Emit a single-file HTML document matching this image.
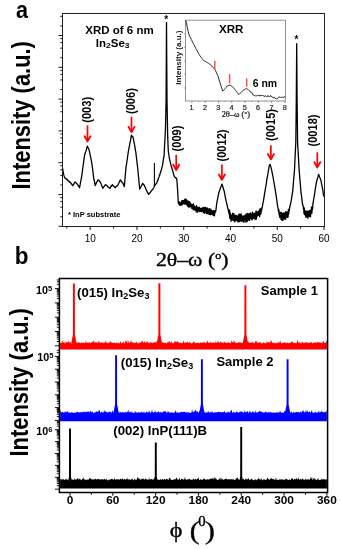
<!DOCTYPE html>
<html><head><meta charset="utf-8"><style>
html,body{margin:0;padding:0;background:#fff;}
svg{display:block;}
</style></head><body>
<svg width="342" height="550" viewBox="0 0 342 550">
<rect width="342" height="550" fill="#fff"/>
<text transform="translate(21.95,17.7) scale(0.9,1)" font-family="'Liberation Sans', Arial, sans-serif" font-size="24" font-weight="bold" text-anchor="middle" dominant-baseline="alphabetic" fill="#000" >a</text>
<text transform="translate(29.6,115.3) scale(1.14,1) rotate(-90)" font-family="'Liberation Sans', Arial, sans-serif" font-size="21.9" font-weight="bold" text-anchor="middle" dominant-baseline="alphabetic" fill="#000" >Intensity (a.u.)</text>
<polyline points="62.6,168.28 62.93,170.19 63.27,172.57 63.6,174.2 64,175.69 64.4,176.74 64.8,177.69 65.11,178.23 65.42,178.12 65.73,178.62 66.04,178.59 66.36,178.82 66.67,179.28 66.98,179.78 67.29,179.51 67.6,179.81 67.92,180.4 68.24,180.94 68.57,180.99 68.89,181.17 69.21,181.89 69.53,181.55 69.86,182.43 70.18,182.34 70.5,182.55 70.8,182.89 71.1,183.39 71.4,184.11 71.7,184.03 72,184.67 72.3,185.07 72.6,185.25 72.9,185.73 73.23,184.85 73.56,184.31 73.89,183.87 74.21,183.65 74.54,182.94 74.87,182.31 75.2,181.96 75.52,182.18 75.83,182.39 76.15,183.06 76.47,183.31 76.78,183.3 77.1,183.85 77.41,184.29 77.72,185.01 78.04,185.39 78.35,185.55 78.66,186.51 78.97,186.38 79.29,187.07 79.6,187.78 79.91,185.63 80.23,184.14 80.54,182.09 80.86,180.8 81.17,179.14 81.49,177.28 81.8,175.76 82.1,173.15 82.4,171.19 82.7,168.9 83,166.67 83.3,164.36 83.6,162.4 83.9,160.26 84.2,157.7 84.5,155.61 84.81,154.18 85.12,153.62 85.43,152.57 85.74,151.8 86.06,150.67 86.37,149.28 86.68,148.34 86.99,147.53 87.3,146.07 87.66,147.09 88.02,147.61 88.38,148.29 88.74,148.97 89.1,150.19 89.4,151.15 89.7,152.65 90,154.16 90.3,155.9 90.6,156.76 90.9,158.43 91.2,159.91 91.5,161.56 91.8,162.92 92.16,165.87 92.52,168.38 92.88,171.4 93.24,174.28 93.6,177.57 93.92,179.3 94.24,180.42 94.56,182.11 94.88,183.83 95.2,185.51 95.51,185.01 95.82,184.41 96.13,183.5 96.44,182.64 96.76,182.25 97.07,181.54 97.38,181 97.69,180.59 98,179.73 98.33,179.94 98.66,180.34 98.99,180.71 99.31,180.6 99.64,181.52 99.97,181.77 100.3,182.16 100.61,182.93 100.92,183.47 101.24,184.3 101.55,184.92 101.86,186.12 102.17,186.54 102.49,187.37 102.8,188.3 103.11,187.84 103.42,187.54 103.73,186.92 104.04,186.46 104.36,186.14 104.67,185.69 104.98,185.45 105.29,184.79 105.6,184.96 105.93,185.05 106.26,185 106.59,185.34 106.91,185.68 107.24,185.96 107.57,186.06 107.9,186.84 108.22,187.26 108.53,187.21 108.85,187.54 109.17,187.58 109.48,187.9 109.8,188.39 110.11,187.86 110.42,187.78 110.74,186.84 111.05,186.27 111.36,186.44 111.67,185.67 111.99,184.93 112.3,184.73 112.61,184.69 112.92,185.36 113.23,186 113.54,186.24 113.86,186.45 114.17,186.47 114.48,186.86 114.79,187.04 115.1,187.79 115.42,187.3 115.74,187.15 116.07,186.51 116.39,186.12 116.71,186.21 117.03,186.01 117.36,185.59 117.68,185.24 118,184.92 118.31,184.28 118.62,183.33 118.94,182.95 119.25,182.25 119.56,181.43 119.88,180.84 120.19,180.43 120.5,179.83 120.81,180.53 121.13,181.12 121.44,181.16 121.76,181.91 122.07,182.34 122.39,182.72 122.7,182.71 123.02,183.36 123.34,184.13 123.66,184.87 123.98,185.63 124.3,186.69 124.62,183.2 124.94,179.48 125.26,175.55 125.58,171.99 125.9,168.41 126.24,165.63 126.58,163.76 126.91,161.66 127.25,159.3 127.59,157 127.92,154.53 128.26,152.05 128.6,150.2 128.91,148.27 129.22,146.99 129.53,145.5 129.84,143.48 130.16,141.88 130.47,140.65 130.78,138.88 131.09,136.88 131.4,135.24 131.76,135.62 132.12,136.5 132.48,136.79 132.84,136.69 133.2,137.53 133.5,139.35 133.8,140.83 134.1,142.33 134.4,144.18 134.7,145.6 135,147.23 135.3,149.61 135.6,151.09 135.9,152.72 136.26,156.1 136.62,158.85 136.98,162.26 137.34,165.33 137.7,168 138.03,171.53 138.37,175.06 138.7,178.52 139.03,182.26 139.37,185.53 139.7,189.14 140.02,188.3 140.34,188.2 140.67,187.16 140.99,186.59 141.31,186.04 141.63,185.62 141.96,184.63 142.28,184.34 142.6,183.4 142.9,183.81 143.2,184.18 143.5,184.21 143.8,184.89 144.1,185.09 144.4,185.35 144.72,186.59 145.03,186.82 145.35,187.71 145.66,188.57 145.98,189.12 146.29,189.64 146.61,190.45 146.92,191.15 147.24,191.99 147.55,192.19 147.87,193.19 148.18,193.65 148.5,194.34 148.83,194.28 149.16,193.68 149.49,193.3 149.81,193.02 150.14,192.72 150.47,191.97 150.8,191.68 151.13,191.19 151.46,190.78 151.79,190.49 152.11,189.91 152.44,189.55 152.77,189.1 153.1,189.01 153.4,188.24 153.7,187.76 154,187.21 154.3,186.13 154.6,185.74 154.9,185.41 155.24,185 155.58,184.17 155.92,183.82 156.26,183.7 156.6,183.1 156.9,182.4 157.2,181.46 157.5,181.06 157.8,180.32 158.1,179.58 158.4,178.24 158.7,177.81 159,176.95 159.3,175.77 159.6,175.47 159.9,174.56 160.2,173.07 160.5,172.62 160.8,171.26 161.1,170.36 161.4,169.74 161.7,168.67 162,167.23 162.3,166.45 162.66,164.31 163.02,161.99 163.38,159.69 163.74,157.57 164.1,155.66 164.45,148.34 164.8,141.89 165.15,134.98 165.5,127.86 166.1,99.88 166.5,22.49 167,100.01 167.35,118.1 167.7,137.14 168,144.1 168.3,151.33 168.67,153.26 169.03,155.9 169.4,158.28 169.72,160.12 170.04,161.08 170.36,162.3 170.68,163.83 171,165.49 171.32,166.5 171.64,167.19 171.96,168.19 172.28,169.81 172.6,170.65 172.92,171.9 173.24,172.63 173.56,173.77 173.88,175.37 174.2,176.35 174.55,176.38 174.9,177.26 175.25,177.32 175.6,177.71 175.9,177.58 176.2,178.5 176.5,178.32 176.8,179.25 177.2,184.47 177.6,189.89 177.95,196.54 178.3,203.3 178.63,202.65 178.97,204.03 179.3,201.81 179.63,205.19 179.97,202.59 180.3,205.36 180.64,202.71 180.98,205.08 181.31,201.73 181.65,204.94 181.99,200.32 182.32,204.53 182.66,200.54 183,203.9 183.31,200.62 183.62,203.36 183.94,200.67 184.25,203.18 184.56,199.38 184.88,204.24 185.19,200.46 185.5,203.89 185.81,198.86 186.12,203.46 186.44,199.56 186.75,204.64 187.06,200.73 187.38,205.99 187.69,201.39 188,205.66 188.31,201.09 188.62,207.09 188.93,202.22 189.24,207.08 189.56,201.71 189.87,206.96 190.18,202.74 190.49,206.63 190.8,203.88 191.14,206.54 191.48,204.35 191.81,208.45 192.15,204.42 192.49,207.62 192.82,205.31 193.16,209.68 193.5,204 193.81,209.75 194.12,205.78 194.44,209.19 194.75,206.18 195.06,210.11 195.38,206.92 195.69,210.51 196,207.1 196.31,211.96 196.62,205.57 196.94,211.11 197.25,207.36 197.56,212.19 197.87,207.31 198.18,210.88 198.49,208.13 198.81,211.05 199.12,207.14 199.43,211.43 199.74,207.88 200.05,211.54 200.36,208.44 200.68,211.09 200.99,208.35 201.3,211.51 201.61,208.58 201.92,210.77 202.24,208.1 202.55,211.39 202.86,207.58 203.17,212.2 203.48,207.33 203.79,212.63 204.11,207.54 204.42,213.27 204.73,208.42 205.04,212.12 205.35,207.18 205.66,211.84 205.98,207.91 206.29,213.11 206.6,209.61 206.91,213.7 207.21,207.8 207.52,213.37 207.82,208.32 208.13,213.95 208.44,209.85 208.74,213.44 209.05,209.16 209.35,214.31 209.66,208.62 209.96,214.44 210.27,209.28 210.58,214.75 210.88,209.2 211.19,214.44 211.49,210.4 211.8,213.06 212.14,210.87 212.48,214.15 212.81,211.26 213.15,215.57 213.49,210.53 213.82,215.42 214.16,210.7 214.5,215.78 214.82,211.13 215.15,212.68 215.48,210.68 215.8,211.17 216.13,208.34 216.47,205.69 216.8,203.11 217.11,201.12 217.43,200.02 217.74,198.11 218.06,196.42 218.37,194.98 218.69,193.73 219,191.79 219.32,191.28 219.64,190.56 219.97,189.33 220.29,188.36 220.61,187.54 220.93,186.8 221.26,185.96 221.58,184.97 221.9,184.1 222.21,184.69 222.53,185.72 222.84,186.78 223.16,188.11 223.47,188.79 223.79,189.96 224.1,190.56 224.4,192.11 224.7,193.77 225,195.57 225.3,197.1 225.6,198.61 225.9,199.85 226.26,201.61 226.62,203.18 226.98,204.78 227.34,206.13 227.7,208.28 228,208.71 228.3,210.17 228.6,212.26 228.9,210.91 229.2,214.63 229.5,209.87 229.8,218.4 230.1,212.26 230.4,217.7 230.7,214.38 231,221.14 231.31,215.14 231.62,220.17 231.94,215.47 232.25,220.12 232.56,213.15 232.88,219.06 233.19,213.68 233.5,220.32 233.81,213.6 234.12,221.03 234.44,215.7 234.75,221.74 235.06,215.06 235.38,219.24 235.69,216.64 236,220.77 236.31,215.37 236.62,220.23 236.93,216.33 237.24,220.38 237.55,215.83 237.86,221.9 238.17,216.8 238.48,221.66 238.79,214.31 239.1,219.79 239.4,214.08 239.71,221.61 240.02,214.18 240.33,220.36 240.64,215.8 240.95,220.7 241.26,213.95 241.57,221.32 241.88,215.9 242.19,220.86 242.5,216.18 242.81,219.69 243.11,216.61 243.42,221.97 243.72,215.97 244.03,222.18 244.33,215.99 244.64,220.08 244.94,215.12 245.25,219.76 245.56,215.44 245.86,221.98 246.17,213.82 246.47,221.46 246.78,214.49 247.08,221.67 247.39,213.47 247.69,220.49 248,214.04 248.31,218.86 248.62,213.86 248.93,219.92 249.24,213.64 249.55,220.35 249.86,214.9 250.17,218.41 250.48,212.82 250.79,218.5 251.1,214.04 251.41,219 251.72,214.41 252.03,220.04 252.34,212.22 252.65,218.45 252.96,213.04 253.27,218.42 253.58,213.18 253.89,218.55 254.2,214.21 254.52,217.61 254.83,213.75 255.15,219.52 255.47,212.55 255.78,217.12 256.1,210.98 256.42,219.12 256.73,212.02 257.05,216.21 257.37,212.46 257.68,215.73 258,211.68 258.33,215.31 258.67,211.49 259,215.32 259.33,210 259.67,216.71 260,208.95 260.32,214.45 260.63,208.8 260.95,213.62 261.27,208.25 261.58,210.92 261.9,208.46 262.21,207.13 262.53,205.9 262.84,203.6 263.16,202.15 263.47,200.52 263.79,198.97 264.1,196.8 264.44,194.71 264.78,192.57 265.11,190.55 265.45,188.46 265.79,186.69 266.12,184.49 266.46,182.39 266.8,179.67 267.14,177.74 267.48,176.27 267.81,174.46 268.15,172.23 268.49,170.37 268.82,168.03 269.16,166.36 269.5,164.8 269.9,164.63 270.3,164.55 270.64,166.16 270.99,167.18 271.33,168.61 271.67,170.17 272.01,171.96 272.36,173.6 272.7,175.31 273.01,176.98 273.32,178.75 273.63,180.65 273.94,182.26 274.26,184.15 274.57,185.61 274.88,187.95 275.19,189.39 275.5,191.69 275.84,193.87 276.19,196.01 276.53,198.25 276.87,200.71 277.21,203.35 277.56,205.77 277.9,207.73 278.22,208.9 278.54,211.72 278.86,209.55 279.18,214.98 279.5,212.04 279.81,217.38 280.12,213.23 280.43,217.03 280.74,212.43 281.06,219.57 281.37,212.44 281.68,219.89 281.99,213.5 282.3,218.5 282.62,214.42 282.94,220.58 283.26,212.94 283.58,218.52 283.9,214.89 284.22,218.99 284.54,212.83 284.86,218.65 285.18,213.99 285.5,219.3 285.82,211.59 286.14,217.31 286.47,213.61 286.79,216.97 287.11,211.78 287.43,217.34 287.76,211.78 288.08,217.02 288.4,209.49 288.71,213.98 289.02,209.15 289.34,210.71 289.65,207.52 289.96,206.54 290.27,204.79 290.59,203.44 290.9,202.48 291.2,200.34 291.5,198.98 291.8,196.85 292.1,194.81 292.4,193.02 292.7,191.34 293,187.87 293.3,184.41 293.6,180.2 293.9,176.73 294.2,172.95 294.5,169.83 294.82,162.45 295.15,155.59 295.48,148.79 295.8,142.23 296.3,100.28 296.7,43.57 297.1,100.16 297.6,142.65 297.9,148.04 298.2,153.06 298.5,158.4 298.8,164.37 299.1,169.67 299.46,173.55 299.82,178.38 300.18,182.56 300.54,186.93 300.9,191.28 301.22,193.69 301.54,196.09 301.86,198.81 302.18,201.38 302.5,204.32 302.8,204.99 303.1,205.03 303.4,208.78 303.7,207.27 304,213.72 304.3,207.91 304.64,214.38 304.98,210.95 305.31,215.33 305.65,210.85 305.99,217.43 306.32,212.19 306.66,216.66 307,211 307.31,216.08 307.62,212.32 307.93,218.26 308.24,211.24 308.56,215.98 308.87,213.27 309.18,215.98 309.49,210.66 309.8,216.47 310.14,210.41 310.49,216.88 310.83,210.15 311.17,213.65 311.51,206.95 311.86,213.22 312.2,207.85 312.55,209.1 312.9,203.97 313.25,202.22 313.6,199.65 313.91,198.21 314.22,196.36 314.53,194.19 314.84,192.44 315.16,189.83 315.47,188.01 315.78,186.22 316.09,184.59 316.4,182.62 316.73,181.05 317.06,179.78 317.39,178.74 317.71,177.61 318.04,176.74 318.37,175.05 318.7,174.31 319.01,175.18 319.33,176.15 319.64,177.03 319.96,177.83 320.27,178.55 320.59,179.46 320.9,180.4 321.2,182.2 321.5,183.21 321.8,184.79 322.1,186.68 322.4,187.82 322.7,189.2 323.07,191.61 323.43,194.4 323.8,196.68" fill="none" stroke="#000" stroke-width="1.3" stroke-linejoin="round" />
<line x1="154.4" y1="186" x2="154.4" y2="162.9" stroke="#000" stroke-width="1.1" />
<rect x="62.5" y="13.5" width="262" height="213" fill="none" stroke="#222" stroke-width="1"/>
<line x1="58.5" y1="226.3" x2="62.5" y2="226.3" stroke="#000" stroke-width="0.9" />
<line x1="60.3" y1="216.73" x2="62.5" y2="216.73" stroke="#000" stroke-width="0.9" />
<line x1="60.3" y1="207.15" x2="62.5" y2="207.15" stroke="#000" stroke-width="0.9" />
<line x1="60.3" y1="201.55" x2="62.5" y2="201.55" stroke="#000" stroke-width="0.9" />
<line x1="60.3" y1="197.58" x2="62.5" y2="197.58" stroke="#000" stroke-width="0.9" />
<line x1="58.5" y1="194.5" x2="62.5" y2="194.5" stroke="#000" stroke-width="0.9" />
<line x1="60.3" y1="184.93" x2="62.5" y2="184.93" stroke="#000" stroke-width="0.9" />
<line x1="60.3" y1="175.35" x2="62.5" y2="175.35" stroke="#000" stroke-width="0.9" />
<line x1="60.3" y1="169.75" x2="62.5" y2="169.75" stroke="#000" stroke-width="0.9" />
<line x1="60.3" y1="165.78" x2="62.5" y2="165.78" stroke="#000" stroke-width="0.9" />
<line x1="58.5" y1="162.7" x2="62.5" y2="162.7" stroke="#000" stroke-width="0.9" />
<line x1="60.3" y1="153.13" x2="62.5" y2="153.13" stroke="#000" stroke-width="0.9" />
<line x1="60.3" y1="143.55" x2="62.5" y2="143.55" stroke="#000" stroke-width="0.9" />
<line x1="60.3" y1="137.95" x2="62.5" y2="137.95" stroke="#000" stroke-width="0.9" />
<line x1="60.3" y1="133.98" x2="62.5" y2="133.98" stroke="#000" stroke-width="0.9" />
<line x1="58.5" y1="130.9" x2="62.5" y2="130.9" stroke="#000" stroke-width="0.9" />
<line x1="60.3" y1="121.33" x2="62.5" y2="121.33" stroke="#000" stroke-width="0.9" />
<line x1="60.3" y1="111.75" x2="62.5" y2="111.75" stroke="#000" stroke-width="0.9" />
<line x1="60.3" y1="106.15" x2="62.5" y2="106.15" stroke="#000" stroke-width="0.9" />
<line x1="60.3" y1="102.18" x2="62.5" y2="102.18" stroke="#000" stroke-width="0.9" />
<line x1="58.5" y1="99.1" x2="62.5" y2="99.1" stroke="#000" stroke-width="0.9" />
<line x1="60.3" y1="89.53" x2="62.5" y2="89.53" stroke="#000" stroke-width="0.9" />
<line x1="60.3" y1="79.95" x2="62.5" y2="79.95" stroke="#000" stroke-width="0.9" />
<line x1="60.3" y1="74.35" x2="62.5" y2="74.35" stroke="#000" stroke-width="0.9" />
<line x1="60.3" y1="70.38" x2="62.5" y2="70.38" stroke="#000" stroke-width="0.9" />
<line x1="58.5" y1="67.3" x2="62.5" y2="67.3" stroke="#000" stroke-width="0.9" />
<line x1="60.3" y1="57.73" x2="62.5" y2="57.73" stroke="#000" stroke-width="0.9" />
<line x1="60.3" y1="48.15" x2="62.5" y2="48.15" stroke="#000" stroke-width="0.9" />
<line x1="60.3" y1="42.55" x2="62.5" y2="42.55" stroke="#000" stroke-width="0.9" />
<line x1="60.3" y1="38.58" x2="62.5" y2="38.58" stroke="#000" stroke-width="0.9" />
<line x1="58.5" y1="35.5" x2="62.5" y2="35.5" stroke="#000" stroke-width="0.9" />
<line x1="60.3" y1="25.93" x2="62.5" y2="25.93" stroke="#000" stroke-width="0.9" />
<line x1="60.3" y1="16.35" x2="62.5" y2="16.35" stroke="#000" stroke-width="0.9" />
<line x1="66.82" y1="226.5" x2="66.82" y2="228.5" stroke="#000" stroke-width="0.9" />
<line x1="90.2" y1="226.5" x2="90.2" y2="230" stroke="#000" stroke-width="0.9" />
<text transform="translate(90.2,238.8)" font-family="'Liberation Sans', Arial, sans-serif" font-size="10" font-weight="normal" text-anchor="middle" dominant-baseline="central" fill="#000" >10</text>
<line x1="113.58" y1="226.5" x2="113.58" y2="228.5" stroke="#000" stroke-width="0.9" />
<line x1="136.96" y1="226.5" x2="136.96" y2="230" stroke="#000" stroke-width="0.9" />
<text transform="translate(136.96,238.8)" font-family="'Liberation Sans', Arial, sans-serif" font-size="10" font-weight="normal" text-anchor="middle" dominant-baseline="central" fill="#000" >20</text>
<line x1="160.34" y1="226.5" x2="160.34" y2="228.5" stroke="#000" stroke-width="0.9" />
<line x1="183.72" y1="226.5" x2="183.72" y2="230" stroke="#000" stroke-width="0.9" />
<text transform="translate(183.72,238.8)" font-family="'Liberation Sans', Arial, sans-serif" font-size="10" font-weight="normal" text-anchor="middle" dominant-baseline="central" fill="#000" >30</text>
<line x1="207.1" y1="226.5" x2="207.1" y2="228.5" stroke="#000" stroke-width="0.9" />
<line x1="230.48" y1="226.5" x2="230.48" y2="230" stroke="#000" stroke-width="0.9" />
<text transform="translate(230.48,238.8)" font-family="'Liberation Sans', Arial, sans-serif" font-size="10" font-weight="normal" text-anchor="middle" dominant-baseline="central" fill="#000" >40</text>
<line x1="253.86" y1="226.5" x2="253.86" y2="228.5" stroke="#000" stroke-width="0.9" />
<line x1="277.24" y1="226.5" x2="277.24" y2="230" stroke="#000" stroke-width="0.9" />
<text transform="translate(277.24,238.8)" font-family="'Liberation Sans', Arial, sans-serif" font-size="10" font-weight="normal" text-anchor="middle" dominant-baseline="central" fill="#000" >50</text>
<line x1="300.62" y1="226.5" x2="300.62" y2="228.5" stroke="#000" stroke-width="0.9" />
<line x1="324" y1="226.5" x2="324" y2="230" stroke="#000" stroke-width="0.9" />
<text transform="translate(324,238.8)" font-family="'Liberation Sans', Arial, sans-serif" font-size="10" font-weight="normal" text-anchor="middle" dominant-baseline="central" fill="#000" >60</text>
<text transform="translate(192.2,266.4) scale(1.16,1)" font-family="'Liberation Serif', 'Times New Roman', serif" font-size="18.8" font-weight="normal" text-anchor="middle" dominant-baseline="alphabetic" fill="#000" stroke="#000" stroke-width="0.35">2θ–ω (<tspan font-size="10.5" dy="-7.3">o</tspan><tspan dy="7.3">)</tspan></text>
<text transform="translate(85.2,34) scale(1.13,1)" font-family="'Liberation Sans', Arial, sans-serif" font-size="10.2" font-weight="bold" text-anchor="start" dominant-baseline="alphabetic" fill="#000" >XRD of 6 nm</text>
<text transform="translate(95.8,47.3) scale(1.13,1)" font-family="'Liberation Sans', Arial, sans-serif" font-size="10.2" font-weight="bold" text-anchor="start" dominant-baseline="alphabetic" fill="#000" >In<tspan font-size="7.5" dy="1">2</tspan><tspan dy="-1">Se</tspan><tspan font-size="7.5" dy="1">3</tspan></text>
<text transform="translate(68,216.6) scale(1.03,1)" font-family="'Liberation Sans', Arial, sans-serif" font-size="7.3" font-weight="bold" text-anchor="start" dominant-baseline="alphabetic" fill="#000" >* InP substrate</text>
<text transform="translate(166.2,23.3)" font-family="'Liberation Sans', Arial, sans-serif" font-size="10" font-weight="bold" text-anchor="middle" dominant-baseline="alphabetic" fill="#000" >*</text>
<text transform="translate(296.5,42.8)" font-family="'Liberation Sans', Arial, sans-serif" font-size="10" font-weight="bold" text-anchor="middle" dominant-baseline="alphabetic" fill="#000" >*</text>
<text transform="translate(86.9,109.85) scale(1.15,1) rotate(-90)" font-family="'Liberation Sans', Arial, sans-serif" font-size="11.1" font-weight="bold" text-anchor="middle" dominant-baseline="central" fill="#000" >(003)</text>
<text transform="translate(131,101.1) scale(1.15,1) rotate(-90)" font-family="'Liberation Sans', Arial, sans-serif" font-size="11.1" font-weight="bold" text-anchor="middle" dominant-baseline="central" fill="#000" >(006)</text>
<text transform="translate(177,138.5) scale(1.15,1) rotate(-90)" font-family="'Liberation Sans', Arial, sans-serif" font-size="11.1" font-weight="bold" text-anchor="middle" dominant-baseline="central" fill="#000" >(009)</text>
<text transform="translate(222.2,145.5) scale(1.15,1) rotate(-90)" font-family="'Liberation Sans', Arial, sans-serif" font-size="11.1" font-weight="bold" text-anchor="middle" dominant-baseline="central" fill="#000" >(0012)</text>
<text transform="translate(271,125) scale(1.15,1) rotate(-90)" font-family="'Liberation Sans', Arial, sans-serif" font-size="11.1" font-weight="bold" text-anchor="middle" dominant-baseline="central" fill="#000" >(0015)</text>
<text transform="translate(313.1,130.5) scale(1.15,1) rotate(-90)" font-family="'Liberation Sans', Arial, sans-serif" font-size="11.1" font-weight="bold" text-anchor="middle" dominant-baseline="central" fill="#000" >(0018)</text>
<line x1="87.5" y1="125.3" x2="87.5" y2="141.1" stroke="#ff0000" stroke-width="1.7" />
<polyline points="84.5,136.2 87.5,141.4 90.5,136.2" fill="none" stroke="#ff0000" stroke-width="1.9" stroke-linejoin="round" stroke-linecap="round"/>
<line x1="131.5" y1="116.8" x2="131.5" y2="131.8" stroke="#ff0000" stroke-width="1.7" />
<polyline points="128.5,126.9 131.5,132.1 134.5,126.9" fill="none" stroke="#ff0000" stroke-width="1.9" stroke-linejoin="round" stroke-linecap="round"/>
<line x1="176.2" y1="154.8" x2="176.2" y2="169.7" stroke="#ff0000" stroke-width="1.7" />
<polyline points="173.2,164.8 176.2,170 179.2,164.8" fill="none" stroke="#ff0000" stroke-width="1.9" stroke-linejoin="round" stroke-linecap="round"/>
<line x1="221.9" y1="164.5" x2="221.9" y2="179.4" stroke="#ff0000" stroke-width="1.7" />
<polyline points="218.9,174.5 221.9,179.7 224.9,174.5" fill="none" stroke="#ff0000" stroke-width="1.9" stroke-linejoin="round" stroke-linecap="round"/>
<line x1="270.9" y1="145.3" x2="270.9" y2="159" stroke="#ff0000" stroke-width="1.7" />
<polyline points="267.9,154.1 270.9,159.3 273.9,154.1" fill="none" stroke="#ff0000" stroke-width="1.9" stroke-linejoin="round" stroke-linecap="round"/>
<line x1="317.3" y1="152.3" x2="317.3" y2="167.1" stroke="#ff0000" stroke-width="1.7" />
<polyline points="314.3,162.2 317.3,167.4 320.3,162.2" fill="none" stroke="#ff0000" stroke-width="1.9" stroke-linejoin="round" stroke-linecap="round"/>
<rect x="185.5" y="20.2" width="100" height="80.8" fill="#fff" stroke="#777" stroke-width="0.8"/>
<line x1="191.9" y1="101" x2="191.9" y2="102.8" stroke="#555" stroke-width="0.7" />
<text transform="translate(191.6,107)" font-family="'Liberation Sans', Arial, sans-serif" font-size="7.2" font-weight="normal" text-anchor="middle" dominant-baseline="central" fill="#222" stroke="#222" stroke-width="0.2">1</text>
<line x1="205.2" y1="101" x2="205.2" y2="102.8" stroke="#555" stroke-width="0.7" />
<text transform="translate(204.9,107)" font-family="'Liberation Sans', Arial, sans-serif" font-size="7.2" font-weight="normal" text-anchor="middle" dominant-baseline="central" fill="#222" stroke="#222" stroke-width="0.2">2</text>
<line x1="218.5" y1="101" x2="218.5" y2="102.8" stroke="#555" stroke-width="0.7" />
<text transform="translate(218.2,107)" font-family="'Liberation Sans', Arial, sans-serif" font-size="7.2" font-weight="normal" text-anchor="middle" dominant-baseline="central" fill="#222" stroke="#222" stroke-width="0.2">3</text>
<line x1="231.8" y1="101" x2="231.8" y2="102.8" stroke="#555" stroke-width="0.7" />
<text transform="translate(231.5,107)" font-family="'Liberation Sans', Arial, sans-serif" font-size="7.2" font-weight="normal" text-anchor="middle" dominant-baseline="central" fill="#222" stroke="#222" stroke-width="0.2">4</text>
<line x1="245.1" y1="101" x2="245.1" y2="102.8" stroke="#555" stroke-width="0.7" />
<text transform="translate(244.8,107)" font-family="'Liberation Sans', Arial, sans-serif" font-size="7.2" font-weight="normal" text-anchor="middle" dominant-baseline="central" fill="#222" stroke="#222" stroke-width="0.2">5</text>
<line x1="258.4" y1="101" x2="258.4" y2="102.8" stroke="#555" stroke-width="0.7" />
<text transform="translate(258.1,107)" font-family="'Liberation Sans', Arial, sans-serif" font-size="7.2" font-weight="normal" text-anchor="middle" dominant-baseline="central" fill="#222" stroke="#222" stroke-width="0.2">6</text>
<line x1="271.7" y1="101" x2="271.7" y2="102.8" stroke="#555" stroke-width="0.7" />
<text transform="translate(271.4,107)" font-family="'Liberation Sans', Arial, sans-serif" font-size="7.2" font-weight="normal" text-anchor="middle" dominant-baseline="central" fill="#222" stroke="#222" stroke-width="0.2">7</text>
<line x1="285" y1="101" x2="285" y2="102.8" stroke="#555" stroke-width="0.7" />
<text transform="translate(284.7,107)" font-family="'Liberation Sans', Arial, sans-serif" font-size="7.2" font-weight="normal" text-anchor="middle" dominant-baseline="central" fill="#222" stroke="#222" stroke-width="0.2">8</text>
<line x1="198.55" y1="101" x2="198.55" y2="102" stroke="#777" stroke-width="0.6" />
<line x1="211.85" y1="101" x2="211.85" y2="102" stroke="#777" stroke-width="0.6" />
<line x1="225.15" y1="101" x2="225.15" y2="102" stroke="#777" stroke-width="0.6" />
<line x1="238.45" y1="101" x2="238.45" y2="102" stroke="#777" stroke-width="0.6" />
<line x1="251.75" y1="101" x2="251.75" y2="102" stroke="#777" stroke-width="0.6" />
<line x1="265.05" y1="101" x2="265.05" y2="102" stroke="#777" stroke-width="0.6" />
<line x1="278.35" y1="101" x2="278.35" y2="102" stroke="#777" stroke-width="0.6" />
<line x1="184" y1="33.9" x2="185.5" y2="33.9" stroke="#777" stroke-width="0.6" />
<line x1="184" y1="47" x2="185.5" y2="47" stroke="#777" stroke-width="0.6" />
<line x1="184" y1="61" x2="185.5" y2="61" stroke="#777" stroke-width="0.6" />
<line x1="184" y1="74.1" x2="185.5" y2="74.1" stroke="#777" stroke-width="0.6" />
<line x1="184" y1="88" x2="185.5" y2="88" stroke="#777" stroke-width="0.6" />
<polyline points="185.6,20.3 186.4,22.3 187.3,27.7 188.2,31.35 189.1,35 189.82,36.46 190.54,37.92 191.26,39.38 191.98,40.84 192.7,42.3 193.32,43.5 193.93,44.7 194.55,45.9 195.17,47.1 195.78,48.3 196.4,49.5 197.12,50.78 197.84,52.06 198.56,53.34 199.28,54.62 200,55.9 200.72,56.82 201.44,57.74 202.16,58.66 202.88,59.58 203.6,60.5 204.21,60.86 204.82,61.21 205.43,61.57 206.04,61.92 206.66,62.28 207.27,62.63 207.88,62.99 208.49,63.34 209.1,63.7 209.82,64.32 210.54,64.94 211.26,65.56 211.98,66.18 212.7,66.8 213.4,67.72 214.1,68.65 214.8,69.58 215.5,70.5 216.18,72.08 216.85,73.65 217.52,75.22 218.2,76.8 218.93,79.23 219.67,81.67 220.4,84.1 221.17,86.4 221.93,88.7 222.7,91 223.3,90.5 223.9,90 224.5,89.5 225.2,88.6 225.9,87.7 226.6,86.8 227.3,85.9 227.98,85.68 228.65,85.45 229.32,85.22 230,85 230.72,85.54 231.44,86.08 232.16,86.62 232.88,87.16 233.6,87.7 234.3,88.62 235,89.55 235.7,90.48 236.4,91.4 237.17,92.43 237.93,93.47 238.7,94.5 239.43,93.77 240.17,93.03 240.9,92.3 241.57,91.75 242.25,91.2 242.93,90.65 243.6,90.1 244.3,89.72 245,89.35 245.7,88.97 246.4,88.6 247.3,89.05 248.2,89.5 248.88,90.2 249.55,90.9 250.22,91.18 250.9,92.62 251.57,92.56 252.25,92.96 252.93,94.89 253.6,94.89 254.3,95.67 255,95.32 255.7,96.21 256.4,95.85 257.02,95.33 257.64,95.02 258.26,95.67 258.88,95.7 259.5,95.97 260.14,94.92 260.78,95.77 261.42,95.52 262.06,95.81 262.7,95.4 263.32,95.66 263.93,96.06 264.55,96.7 265.17,95.62 265.78,96.22 266.4,96.73 267,96.89 267.6,95.74 268.2,95.58 268.8,96.65 269.4,96.63 270,95.88 270.6,95.49 271.2,96.93 271.8,96.39 272.4,97.33 273,97.15 273.6,97.65 274.3,97.17 275,98.5 275.7,98.16 276.4,98.87 277.07,99.03 277.75,98.56 278.43,97.21 279.1,96.81 279.78,97.18 280.45,97.48 281.12,97.41 281.8,97.17 282.44,97.17 283.08,97.65 283.72,97.72 284.36,96.34 285,96.89" fill="none" stroke="#222" stroke-width="1" stroke-linejoin="round" />
<line x1="214.8" y1="60.8" x2="214.8" y2="70" stroke="#ff4a3a" stroke-width="1.4" />
<line x1="229.6" y1="74.1" x2="229.6" y2="83.5" stroke="#ff4a3a" stroke-width="1.4" />
<line x1="246.7" y1="78.6" x2="246.7" y2="86.8" stroke="#ff4a3a" stroke-width="1.4" />
<text transform="translate(219,33) scale(1.05,1)" font-family="'Liberation Sans', Arial, sans-serif" font-size="11" font-weight="bold" text-anchor="start" dominant-baseline="alphabetic" fill="#000" >XRR</text>
<text transform="translate(252.7,86.8) scale(1.05,1)" font-family="'Liberation Sans', Arial, sans-serif" font-size="10" font-weight="bold" text-anchor="start" dominant-baseline="alphabetic" fill="#000" >6 nm</text>
<text transform="translate(181.3,57.7) scale(0.95,1) rotate(-90)" font-family="'Liberation Sans', Arial, sans-serif" font-size="8" font-weight="bold" text-anchor="middle" dominant-baseline="alphabetic" fill="#222" >Intensity (a.u.)</text>
<text transform="translate(235.8,116.8) scale(1.1,1)" font-family="'Liberation Serif', 'Times New Roman', serif" font-size="7.6" font-weight="normal" text-anchor="middle" dominant-baseline="alphabetic" fill="#222" stroke="#222" stroke-width="0.25">2θ–ω (<tspan font-size="5" dy="-2.5">o</tspan><tspan dy="2.5">)</tspan></text>
<text transform="translate(21.75,264) scale(0.92,1)" font-family="'Liberation Sans', Arial, sans-serif" font-size="24.5" font-weight="bold" text-anchor="middle" dominant-baseline="alphabetic" fill="#000" >b</text>
<text transform="translate(28.4,382.3) scale(1.14,1) rotate(-90)" font-family="'Liberation Sans', Arial, sans-serif" font-size="21.9" font-weight="bold" text-anchor="middle" dominant-baseline="alphabetic" fill="#000" >Intensity (a.u.)</text>
<polygon points="60.1,349.6 60.1,342.11 60.65,343.12 61.2,342.69 61.75,342.94 62.3,339.83 62.85,342.59 63.4,341.9 63.95,343.05 64.5,343.41 65.05,340.23 65.6,343.4 66.15,342.25 66.7,341.95 67.25,342.6 67.8,342.27 68.35,342.25 68.9,340.14 69.45,342.79 70,342.2 70.55,341.91 71.1,343.05 71.65,343.4 72.2,343.23 72.75,342.39 73.3,343.31 73.85,342.71 74.4,341.96 74.95,343.18 75.5,342.18 76.05,343.02 76.6,342.5 77.15,342.71 77.7,342.73 78.25,341.81 78.8,343.03 79.35,342.85 79.9,342.17 80.45,343.47 81,342.76 81.55,342.27 82.1,343.42 82.65,342.63 83.2,342.78 83.75,341.91 84.3,343.21 84.85,343.08 85.4,342.73 85.95,340.3 86.5,342.81 87.05,342.71 87.6,342.47 88.15,342.76 88.7,342.88 89.25,341.94 89.8,342.18 90.35,343.28 90.9,343.18 91.45,342.31 92,342.15 92.55,341.92 93.1,340.44 93.65,341.38 94.2,341.48 94.75,343.04 95.3,342.42 95.85,341.94 96.4,342.57 96.95,342.07 97.5,342.72 98.05,342.87 98.6,340.88 99.15,341.05 99.7,342.99 100.25,342.25 100.8,343.18 101.35,342.26 101.9,342.53 102.45,342.41 103,341.99 103.55,343.45 104.1,342.39 104.65,342.4 105.2,343.09 105.75,340.01 106.3,341.96 106.85,343.44 107.4,342.17 107.95,343.46 108.5,342.71 109.05,342.46 109.6,342.98 110.15,340.28 110.7,342.37 111.25,342.42 111.8,342.2 112.35,342.42 112.9,343.15 113.45,342.24 114,343.24 114.55,342.45 115.1,343 115.65,343.48 116.2,341.97 116.75,343.36 117.3,343.11 117.85,343.25 118.4,342.44 118.95,343.29 119.5,343.43 120.05,342.12 120.6,341.14 121.15,343.29 121.7,343.23 122.25,342.88 122.8,342.5 123.35,341 123.9,343.33 124.45,343.38 125,342.34 125.55,341.28 126.1,339.74 126.65,341.96 127.2,343.48 127.75,340.87 128.3,340.74 128.85,342.51 129.4,343.35 129.95,342.31 130.5,342.06 131.05,339.49 131.6,342.37 132.15,342.62 132.7,342 133.25,343.45 133.8,342.08 134.35,342.89 134.9,342.77 135.45,342.96 136,342.77 136.55,341.02 137.1,343.47 137.65,342.94 138.2,343.41 138.75,342.39 139.3,342.41 139.85,343.33 140.4,342.43 140.95,342.83 141.5,341.08 142.05,342.02 142.6,340.13 143.15,342.37 143.7,342.69 144.25,342.15 144.8,340.76 145.35,342.18 145.9,343.48 146.45,340.74 147,343.37 147.55,340.98 148.1,341.95 148.65,343.34 149.2,343.35 149.75,343.09 150.3,342.19 150.85,342.15 151.4,342.97 151.95,342 152.5,343.19 153.05,342.77 153.6,342.63 154.15,342.44 154.7,341.94 155.25,342.57 155.8,342 156.35,340.88 156.9,343.23 157.45,342.54 158,340.57 158.55,342.7 159.1,342.6 159.65,343.07 160.2,342.69 160.75,342.26 161.3,342.8 161.85,343.37 162.4,342.01 162.95,342.72 163.5,342.16 164.05,343.31 164.6,343.01 165.15,342.49 165.7,343.08 166.25,343.27 166.8,343.44 167.35,342.18 167.9,342.25 168.45,341.15 169,343.05 169.55,340.68 170.1,341.97 170.65,343.19 171.2,342.33 171.75,341.32 172.3,343.25 172.85,343.02 173.4,343.38 173.95,342.51 174.5,341.24 175.05,342.1 175.6,341.61 176.15,341.25 176.7,342.3 177.25,341.91 177.8,340.74 178.35,342.87 178.9,342.23 179.45,342.77 180,342.84 180.55,342.99 181.1,343.19 181.65,342.77 182.2,343.27 182.75,342.81 183.3,340.18 183.85,342.09 184.4,342.77 184.95,343.12 185.5,342.12 186.05,342.82 186.6,342.7 187.15,341.19 187.7,342.62 188.25,342.54 188.8,342.99 189.35,342.94 189.9,340.95 190.45,342.86 191,343.23 191.55,343.48 192.1,343.24 192.65,343.09 193.2,340.53 193.75,342.75 194.3,341.91 194.85,342.58 195.4,343.28 195.95,343.07 196.5,343.1 197.05,343.09 197.6,342.94 198.15,342.55 198.7,342.91 199.25,343.15 199.8,343.13 200.35,342.87 200.9,342.32 201.45,343.3 202,342.14 202.55,342.68 203.1,341.97 203.65,343.09 204.2,342.47 204.75,341.93 205.3,343.41 205.85,342.54 206.4,342.87 206.95,342.23 207.5,340.12 208.05,342.74 208.6,342.72 209.15,342.17 209.7,343.04 210.25,342.33 210.8,342.27 211.35,342.18 211.9,343.29 212.45,342.26 213,343.03 213.55,341.95 214.1,342.9 214.65,342.59 215.2,343.16 215.75,340.45 216.3,342.61 216.85,343.07 217.4,342.32 217.95,340.11 218.5,342.48 219.05,342.28 219.6,343.05 220.15,342.07 220.7,341.57 221.25,341.99 221.8,343.32 222.35,341.96 222.9,343.2 223.45,342.88 224,341.26 224.55,342.05 225.1,342.69 225.65,342.17 226.2,343.21 226.75,342.83 227.3,343.04 227.85,342.85 228.4,341.34 228.95,343.27 229.5,342.51 230.05,343.37 230.6,343.31 231.15,342.14 231.7,339.99 232.25,341.99 232.8,342.11 233.35,343.24 233.9,339.73 234.45,341.97 235,341.24 235.55,342.92 236.1,343 236.65,342.96 237.2,342.91 237.75,342.93 238.3,342 238.85,342.84 239.4,342.87 239.95,341.33 240.5,342.56 241.05,343.31 241.6,342.96 242.15,343.09 242.7,343.1 243.25,341.1 243.8,343.27 244.35,339.8 244.9,342.65 245.45,341.77 246,341.14 246.55,343.03 247.1,341.94 247.65,342.04 248.2,340.58 248.75,343.07 249.3,342.11 249.85,343.19 250.4,342.39 250.95,342.29 251.5,342.43 252.05,343.15 252.6,340.93 253.15,342.62 253.7,343.05 254.25,343.02 254.8,343.33 255.35,340.94 255.9,341.35 256.45,340.63 257,342.94 257.55,342.38 258.1,342.42 258.65,342.7 259.2,342.14 259.75,342.42 260.3,342.01 260.85,342.67 261.4,343.38 261.95,343.21 262.5,343.38 263.05,342.12 263.6,342.82 264.15,343.15 264.7,343.09 265.25,343.41 265.8,342.54 266.35,343.47 266.9,340.2 267.45,342.8 268,342.2 268.55,342.1 269.1,342.77 269.65,342.07 270.2,342.91 270.75,339.78 271.3,340.66 271.85,341.93 272.4,343.26 272.95,342.35 273.5,342.86 274.05,343.33 274.6,342.98 275.15,343.41 275.7,343.06 276.25,343.5 276.8,342.22 277.35,343.13 277.9,342.68 278.45,343.31 279,340.59 279.55,342.63 280.1,342.38 280.65,340.59 281.2,343.32 281.75,343.45 282.3,342.82 282.85,342.74 283.4,343.21 283.95,342.55 284.5,342.39 285.05,342.71 285.6,342.78 286.15,342.16 286.7,343.49 287.25,342.81 287.8,342.54 288.35,343.33 288.9,343.34 289.45,343.25 290,342.64 290.55,342.5 291.1,342.67 291.65,341.23 292.2,341.47 292.75,342.32 293.3,342.84 293.85,343.5 294.4,342.72 294.95,343.01 295.5,343.14 296.05,343.04 296.6,343.45 297.15,339.6 297.7,341.04 298.25,342.67 298.8,342.54 299.35,341.39 299.9,343.49 300.45,342.76 301,343.41 301.55,342.07 302.1,342.57 302.65,342.09 303.2,342.35 303.75,343.17 304.3,343.16 304.85,342.04 305.4,342.97 305.95,342.71 306.5,342.09 307.05,342.07 307.6,343.35 308.15,342.73 308.7,343.32 309.25,342.36 309.8,343.33 310.35,342.24 310.9,342.44 311.45,341.91 312,342.95 312.55,343.45 313.1,342.76 313.65,343.12 314.2,342.27 314.75,343.03 315.3,342.11 315.85,342.8 316.4,343.44 316.95,341.37 317.5,342.35 318.05,342.33 318.6,342.49 319.15,342.44 319.7,342.19 320.25,343.01 320.8,341.99 321.35,343 321.9,343.2 322.45,342.4 323,341.39 323.55,340.59 324.1,343.02 324.65,343 325.2,342.22 325.75,343.31 326.3,340.59 326.85,341.7 326.9,349.6" fill="#ff0000" />
<polygon points="72.95,283.6 74.85,283.6 74.9,334.6 76.5,343.1 71.3,343.1 72.9,334.6" fill="#ff0000" />
<polygon points="158.45,283.3 160.35,283.3 160.4,334.6 162,343.1 156.8,343.1 158.4,334.6" fill="#ff0000" />
<polygon points="244.45,285.2 246.35,285.2 246.4,334.6 248,343.1 242.8,343.1 244.4,334.6" fill="#ff0000" />
<polygon points="60.1,421.2 60.1,413.03 60.65,409.37 61.2,412.68 61.75,411.99 62.3,412.47 62.85,411.75 63.4,412.13 63.95,413.09 64.5,412.37 65.05,411.08 65.6,412.24 66.15,412.11 66.7,412.34 67.25,410.53 67.8,411.72 68.35,413.1 68.9,411.79 69.45,412.77 70,412.95 70.55,412.76 71.1,413.07 71.65,411.76 72.2,412.64 72.75,412.35 73.3,412.98 73.85,412.83 74.4,412.91 74.95,412.24 75.5,412.97 76.05,412.28 76.6,412.02 77.15,411.77 77.7,411.93 78.25,412 78.8,412.63 79.35,412.33 79.9,412.44 80.45,411.83 81,412.99 81.55,411.62 82.1,412.66 82.65,411.81 83.2,411.59 83.75,411.94 84.3,411.21 84.85,412.87 85.4,411.84 85.95,412.18 86.5,411.55 87.05,411.78 87.6,411.63 88.15,411.54 88.7,411.53 89.25,411.69 89.8,412.61 90.35,411.57 90.9,410.36 91.45,412.48 92,411.68 92.55,411.55 93.1,412.73 93.65,412.94 94.2,412.88 94.75,412.26 95.3,412.56 95.85,411.66 96.4,411.11 96.95,412.13 97.5,411.73 98.05,411.91 98.6,410.42 99.15,410.87 99.7,409.88 100.25,412.31 100.8,412.99 101.35,411.87 101.9,411.9 102.45,412.5 103,412.64 103.55,412.18 104.1,410.01 104.65,411.68 105.2,410.78 105.75,411.87 106.3,412.33 106.85,412 107.4,411.84 107.95,413.04 108.5,412.19 109.05,410.92 109.6,412.34 110.15,411.65 110.7,412.09 111.25,412.97 111.8,411.96 112.35,410.13 112.9,411.66 113.45,412.84 114,411.53 114.55,412.16 115.1,411.83 115.65,411.62 116.2,412.1 116.75,411.62 117.3,411.81 117.85,412.13 118.4,412.71 118.95,410.76 119.5,412.86 120.05,413.04 120.6,411.54 121.15,412.74 121.7,412.3 122.25,412.23 122.8,411.93 123.35,412.26 123.9,412.79 124.45,412.84 125,411.87 125.55,411.92 126.1,412.59 126.65,412.44 127.2,411.65 127.75,411.59 128.3,409.28 128.85,413.08 129.4,411.71 129.95,411.87 130.5,412.59 131.05,410.62 131.6,413.02 132.15,411.65 132.7,412.64 133.25,412.93 133.8,412.63 134.35,413.09 134.9,410.87 135.45,411.55 136,412.91 136.55,412.32 137.1,412.15 137.65,413 138.2,412.26 138.75,412.03 139.3,412.55 139.85,412.86 140.4,412.49 140.95,412.57 141.5,410.93 142.05,412.64 142.6,412.54 143.15,411.53 143.7,412.67 144.25,412.95 144.8,411.66 145.35,412.73 145.9,412.69 146.45,411.81 147,411.72 147.55,412.2 148.1,412.41 148.65,411.83 149.2,409.99 149.75,412.84 150.3,412.71 150.85,412.58 151.4,411.93 151.95,409.46 152.5,411.78 153.05,412.76 153.6,412.58 154.15,411.81 154.7,412.11 155.25,410.22 155.8,413.05 156.35,412.36 156.9,412.21 157.45,411.99 158,412.27 158.55,410.76 159.1,411.99 159.65,412.77 160.2,412.13 160.75,411.65 161.3,412.13 161.85,412.86 162.4,412.51 162.95,411.87 163.5,411.87 164.05,410.84 164.6,412.11 165.15,410.43 165.7,411.77 166.25,411.97 166.8,412.97 167.35,412.52 167.9,410.82 168.45,411.8 169,412.1 169.55,412.77 170.1,412.79 170.65,412.14 171.2,412.05 171.75,412.98 172.3,412.6 172.85,412.69 173.4,412.89 173.95,412.71 174.5,411.97 175.05,412.57 175.6,409.7 176.15,412.07 176.7,412.93 177.25,412.19 177.8,412.06 178.35,412.97 178.9,412.72 179.45,412.37 180,412.83 180.55,411.96 181.1,411.74 181.65,411.94 182.2,411.83 182.75,412.17 183.3,412.05 183.85,411.88 184.4,412.04 184.95,411.68 185.5,412.86 186.05,411.06 186.6,412.85 187.15,412.73 187.7,412.13 188.25,412.13 188.8,412.49 189.35,412.84 189.9,412.44 190.45,413.08 191,412.85 191.55,412.16 192.1,409.08 192.65,411.71 193.2,412.59 193.75,411.62 194.3,411.8 194.85,411.01 195.4,410.12 195.95,410.21 196.5,411.89 197.05,410.74 197.6,411.6 198.15,412.97 198.7,412.34 199.25,411.26 199.8,410.73 200.35,410.67 200.9,412.11 201.45,412.87 202,412.65 202.55,411.99 203.1,412.81 203.65,411.84 204.2,411.98 204.75,412.18 205.3,412.78 205.85,412.4 206.4,411.96 206.95,413.08 207.5,412.62 208.05,410.82 208.6,411.82 209.15,412.43 209.7,412.5 210.25,412.62 210.8,411.58 211.35,412.82 211.9,411.32 212.45,411.67 213,412.37 213.55,413.03 214.1,412.94 214.65,411.97 215.2,412.82 215.75,411.94 216.3,412.41 216.85,412.16 217.4,412.23 217.95,411.7 218.5,411.94 219.05,411.84 219.6,412.36 220.15,412.34 220.7,411.82 221.25,412.61 221.8,412.22 222.35,412.05 222.9,411.91 223.45,412.26 224,412.25 224.55,410.17 225.1,412.88 225.65,412.49 226.2,412.92 226.75,411.99 227.3,412.84 227.85,411.52 228.4,411.82 228.95,412.01 229.5,412.66 230.05,412.2 230.6,411.05 231.15,409.88 231.7,410.3 232.25,412.96 232.8,412.29 233.35,411.66 233.9,413.04 234.45,411.82 235,412.9 235.55,412.62 236.1,411.88 236.65,411.6 237.2,411.72 237.75,412.13 238.3,413.05 238.85,412.26 239.4,411.84 239.95,412.35 240.5,411.64 241.05,410.58 241.6,412.14 242.15,411.66 242.7,412.33 243.25,412.43 243.8,412.68 244.35,411.54 244.9,410.36 245.45,412.36 246,412.53 246.55,411.66 247.1,411.64 247.65,410.87 248.2,412.56 248.75,413.01 249.3,412.04 249.85,410.34 250.4,412.08 250.95,412.52 251.5,412.93 252.05,411.67 252.6,410.9 253.15,413.1 253.7,411.16 254.25,412.48 254.8,412.17 255.35,409.95 255.9,413.05 256.45,412.58 257,411.73 257.55,412.76 258.1,412.14 258.65,411.68 259.2,411.61 259.75,410.31 260.3,412.3 260.85,410.86 261.4,412.34 261.95,411.44 262.5,412.24 263.05,413.06 263.6,412.33 264.15,412.2 264.7,412.78 265.25,411.76 265.8,411.7 266.35,411.54 266.9,413.06 267.45,412.41 268,412.21 268.55,412.18 269.1,411.85 269.65,413.02 270.2,411.18 270.75,412.84 271.3,412.38 271.85,412.6 272.4,412.64 272.95,412.86 273.5,412.56 274.05,412.36 274.6,413.02 275.15,412.17 275.7,412.94 276.25,412.54 276.8,411.69 277.35,412.5 277.9,413.04 278.45,412.12 279,412.73 279.55,412.08 280.1,410.13 280.65,412.54 281.2,412.3 281.75,412.79 282.3,412.96 282.85,412.15 283.4,412.75 283.95,412.57 284.5,410.57 285.05,411.68 285.6,412.08 286.15,410.46 286.7,410.2 287.25,412.14 287.8,411.38 288.35,411.55 288.9,411.28 289.45,412.27 290,413.05 290.55,412.52 291.1,411.86 291.65,411.77 292.2,412.83 292.75,412.66 293.3,411.95 293.85,412.42 294.4,412.85 294.95,411.79 295.5,412.8 296.05,411.86 296.6,411.88 297.15,412.44 297.7,411.76 298.25,412.26 298.8,411.79 299.35,412.62 299.9,412.85 300.45,411.61 301,411.68 301.55,412.75 302.1,411.8 302.65,410.55 303.2,411.99 303.75,409.83 304.3,411.78 304.85,412.91 305.4,411.99 305.95,410.1 306.5,412.34 307.05,409.64 307.6,411.83 308.15,411.7 308.7,412.24 309.25,411.56 309.8,411.57 310.35,412.49 310.9,412.79 311.45,410.49 312,410.57 312.55,412.74 313.1,412.97 313.65,413.02 314.2,412.06 314.75,412.67 315.3,411.56 315.85,412.52 316.4,412.88 316.95,411.72 317.5,413.07 318.05,412.27 318.6,411.6 319.15,410.84 319.7,412.94 320.25,411.54 320.8,412.41 321.35,409.98 321.9,412.41 322.45,411.87 323,411.64 323.55,412.2 324.1,412.55 324.65,412.03 325.2,412.55 325.75,411.8 326.3,410.59 326.85,412.1 326.9,421.2" fill="#0000ff" />
<polygon points="115.15,355.2 117.05,355.2 117.1,404.2 118.7,412.7 113.5,412.7 115.1,404.2" fill="#0000ff" />
<polygon points="200.95,359.3 202.85,359.3 202.9,404.2 204.5,412.7 199.3,412.7 200.9,404.2" fill="#0000ff" />
<polygon points="286.65,359.3 288.55,359.3 288.6,404.2 290.2,412.7 285,412.7 286.6,404.2" fill="#0000ff" />
<polygon points="60.1,488.6 60.1,479.08 60.65,479.29 61.2,478.88 61.75,480.04 62.3,479.07 62.85,479.45 63.4,479.46 63.95,478.94 64.5,480.09 65.05,479.89 65.6,478.8 66.15,479.65 66.7,478.75 67.25,479.46 67.8,480.11 68.35,480.17 68.9,479.98 69.45,480.2 70,477.75 70.55,480.24 71.1,479.7 71.65,479.51 72.2,479.26 72.75,479.63 73.3,479.79 73.85,480.07 74.4,477.77 74.95,480.24 75.5,479.61 76.05,479.04 76.6,479.62 77.15,478.8 77.7,478.36 78.25,478.15 78.8,479.93 79.35,478.77 79.9,478.77 80.45,479.23 81,480.27 81.55,480.3 82.1,478.82 82.65,478.75 83.2,479.35 83.75,476.94 84.3,479.2 84.85,480.13 85.4,479.44 85.95,479.73 86.5,479.59 87.05,480.2 87.6,479.39 88.15,479.08 88.7,480.26 89.25,478.2 89.8,477.97 90.35,478.03 90.9,479.45 91.45,479.26 92,479 92.55,479.78 93.1,479.1 93.65,479.65 94.2,479.28 94.75,479.29 95.3,479.18 95.85,478.34 96.4,479.88 96.95,479.06 97.5,479.08 98.05,479.4 98.6,478.86 99.15,479.23 99.7,479.4 100.25,478.97 100.8,479.74 101.35,479.42 101.9,478.89 102.45,479.01 103,480.04 103.55,479.15 104.1,479.73 104.65,478.04 105.2,479.97 105.75,479.25 106.3,479.37 106.85,479.37 107.4,480.21 107.95,480.28 108.5,480.22 109.05,479.06 109.6,480.04 110.15,479.53 110.7,479.25 111.25,478.81 111.8,479.16 112.35,478.77 112.9,479.81 113.45,480.13 114,477.78 114.55,478.97 115.1,479.76 115.65,479.36 116.2,479.68 116.75,479.1 117.3,479.46 117.85,479.26 118.4,479.56 118.95,478.97 119.5,480.17 120.05,478.34 120.6,478.9 121.15,479.13 121.7,479.38 122.25,479.07 122.8,478.01 123.35,480.26 123.9,478.84 124.45,479.21 125,479.26 125.55,479.64 126.1,479.01 126.65,478.9 127.2,479.85 127.75,477.51 128.3,479.67 128.85,479.31 129.4,479.7 129.95,479.3 130.5,479.82 131.05,479.81 131.6,479.09 132.15,478.42 132.7,479.38 133.25,480.2 133.8,480.14 134.35,479.12 134.9,478.9 135.45,479.76 136,479.97 136.55,479.87 137.1,478.87 137.65,476.82 138.2,477.83 138.75,479.28 139.3,478.06 139.85,479.78 140.4,480.22 140.95,478.1 141.5,479.52 142.05,478.87 142.6,478.94 143.15,479.6 143.7,477.94 144.25,479.69 144.8,479.33 145.35,479.33 145.9,477.87 146.45,480.26 147,478.13 147.55,479.91 148.1,479.53 148.65,479.73 149.2,477.09 149.75,480.17 150.3,479.41 150.85,479 151.4,479.02 151.95,479.2 152.5,479.81 153.05,479.17 153.6,479.36 154.15,479.64 154.7,477.58 155.25,478.01 155.8,479.22 156.35,478.93 156.9,479.47 157.45,479.45 158,480.01 158.55,479.47 159.1,480.07 159.65,479.87 160.2,479.45 160.75,479.08 161.3,479.78 161.85,480.07 162.4,479 162.95,479 163.5,480.07 164.05,479.11 164.6,479.2 165.15,478.94 165.7,480.03 166.25,479.27 166.8,478.51 167.35,479.4 167.9,479.04 168.45,480.23 169,478.39 169.55,477.72 170.1,478.04 170.65,479.3 171.2,479.91 171.75,479.78 172.3,479.99 172.85,479.91 173.4,479.78 173.95,478.88 174.5,479.26 175.05,479.79 175.6,478.99 176.15,477.66 176.7,477.64 177.25,478.93 177.8,479.85 178.35,479.59 178.9,479.43 179.45,477.18 180,479.91 180.55,479.88 181.1,479.13 181.65,478.59 182.2,479.1 182.75,479.27 183.3,479.35 183.85,479.93 184.4,478.88 184.95,476.97 185.5,479.86 186.05,479 186.6,479.89 187.15,479.9 187.7,478.93 188.25,479.01 188.8,479.61 189.35,479.1 189.9,478.75 190.45,480.13 191,479.31 191.55,479.63 192.1,480.26 192.65,479.18 193.2,479.47 193.75,477.98 194.3,479.76 194.85,479.54 195.4,479.01 195.95,478.76 196.5,479.73 197.05,479.61 197.6,478.22 198.15,478.39 198.7,477.52 199.25,480.19 199.8,480.09 200.35,478.91 200.9,479.66 201.45,479.85 202,479.25 202.55,480.19 203.1,479.4 203.65,478.62 204.2,478.82 204.75,478.96 205.3,479.82 205.85,479.38 206.4,479.19 206.95,479.91 207.5,478.99 208.05,479.85 208.6,479.29 209.15,479.65 209.7,478.7 210.25,478.51 210.8,479.01 211.35,478.97 211.9,478.02 212.45,478.97 213,477.37 213.55,479.35 214.1,478.78 214.65,477.18 215.2,477.59 215.75,478.96 216.3,478.38 216.85,479.86 217.4,479.96 217.95,480.19 218.5,479.1 219.05,480 219.6,477.5 220.15,480.25 220.7,477.78 221.25,478.1 221.8,479.75 222.35,479.02 222.9,479.46 223.45,480.17 224,478.75 224.55,479.67 225.1,478.84 225.65,478.71 226.2,479.23 226.75,478.35 227.3,479.87 227.85,479.59 228.4,479.28 228.95,479.07 229.5,479.47 230.05,478.97 230.6,479.67 231.15,479.32 231.7,478.95 232.25,478.74 232.8,479.91 233.35,478.86 233.9,480.05 234.45,480.11 235,479.42 235.55,479.87 236.1,477.93 236.65,478.63 237.2,477.17 237.75,478.07 238.3,479.73 238.85,478.72 239.4,480.25 239.95,479.6 240.5,479.95 241.05,479.96 241.6,478.09 242.15,479.19 242.7,480.25 243.25,478.68 243.8,479.06 244.35,479.68 244.9,479.92 245.45,479.25 246,477.44 246.55,479.65 247.1,479.03 247.65,479.44 248.2,478.82 248.75,477.9 249.3,479.88 249.85,479.74 250.4,479.04 250.95,480.29 251.5,478.28 252.05,478.96 252.6,479.86 253.15,480.28 253.7,480.19 254.25,479.37 254.8,480.14 255.35,479.47 255.9,479.35 256.45,480.17 257,480.19 257.55,478.85 258.1,479.17 258.65,477.88 259.2,479.14 259.75,479.25 260.3,479.89 260.85,478.87 261.4,478.34 261.95,479.92 262.5,480.26 263.05,480.1 263.6,478.96 264.15,479.44 264.7,479.57 265.25,480.06 265.8,479.44 266.35,479.99 266.9,479.09 267.45,477.17 268,478.69 268.55,479.03 269.1,479.45 269.65,479.96 270.2,478.76 270.75,478.72 271.3,477.68 271.85,478.85 272.4,479.1 272.95,479.37 273.5,478.77 274.05,479.7 274.6,480.16 275.15,477.23 275.7,479.96 276.25,480.03 276.8,478.32 277.35,479.73 277.9,480.15 278.45,479.76 279,480 279.55,479.36 280.1,478.97 280.65,479.79 281.2,479.58 281.75,479.26 282.3,479.98 282.85,478.99 283.4,479.54 283.95,480.06 284.5,480.19 285.05,478.75 285.6,479.58 286.15,479.15 286.7,478.42 287.25,479.29 287.8,480.13 288.35,479.73 288.9,480.17 289.45,479.31 290,479.21 290.55,480.22 291.1,479.21 291.65,478 292.2,479.15 292.75,477.48 293.3,479.89 293.85,479.71 294.4,478.71 294.95,479.06 295.5,479.47 296.05,478.44 296.6,478.16 297.15,478.98 297.7,479.78 298.25,477.06 298.8,478.98 299.35,480.02 299.9,478.78 300.45,479.56 301,478.87 301.55,480.28 302.1,477.93 302.65,479.26 303.2,478.82 303.75,480.2 304.3,480.27 304.85,479.27 305.4,479.48 305.95,477.92 306.5,479.9 307.05,479.61 307.6,479.56 308.15,479.56 308.7,479.02 309.25,480.19 309.8,478.99 310.35,478.87 310.9,476.85 311.45,479.35 312,476.87 312.55,479.97 313.1,479.8 313.65,478.37 314.2,477.77 314.75,479.22 315.3,479.3 315.85,479.27 316.4,480.27 316.95,480.08 317.5,479.16 318.05,477.63 318.6,479.87 319.15,479.73 319.7,480.25 320.25,479.46 320.8,480.1 321.35,479.55 321.9,478.29 322.45,480.06 323,478.79 323.55,479.31 324.1,479.29 324.65,479.58 325.2,479.39 325.75,479.84 326.3,479.18 326.85,479.34 326.9,488.6" fill="#000000" />
<polygon points="69.05,428.6 70.95,428.6 71,476.4 71.6,479.9 68.4,479.9 69,476.4" fill="#000000" />
<polygon points="154.85,442.6 156.75,442.6 156.8,476.4 157.4,479.9 154.2,479.9 154.8,476.4" fill="#000000" />
<polygon points="240.25,427 242.15,427 242.2,476.4 242.8,479.9 239.6,479.9 240.2,476.4" fill="#000000" />
<rect x="59.4" y="278.5" width="268.2" height="214" fill="none" stroke="#000" stroke-width="1.5"/>
<line x1="54.9" y1="288.6" x2="59.4" y2="288.6" stroke="#000" stroke-width="0.9" />
<line x1="56.8" y1="284.3" x2="59.4" y2="284.3" stroke="#000" stroke-width="0.9" />
<line x1="56.8" y1="281.78" x2="59.4" y2="281.78" stroke="#000" stroke-width="0.9" />
<line x1="56.8" y1="279.99" x2="59.4" y2="279.99" stroke="#000" stroke-width="0.9" />
<line x1="54.9" y1="302.9" x2="59.4" y2="302.9" stroke="#000" stroke-width="0.9" />
<line x1="56.8" y1="298.6" x2="59.4" y2="298.6" stroke="#000" stroke-width="0.9" />
<line x1="56.8" y1="296.08" x2="59.4" y2="296.08" stroke="#000" stroke-width="0.9" />
<line x1="56.8" y1="294.29" x2="59.4" y2="294.29" stroke="#000" stroke-width="0.9" />
<line x1="56.8" y1="292.9" x2="59.4" y2="292.9" stroke="#000" stroke-width="0.9" />
<line x1="56.8" y1="291.77" x2="59.4" y2="291.77" stroke="#000" stroke-width="0.9" />
<line x1="56.8" y1="290.82" x2="59.4" y2="290.82" stroke="#000" stroke-width="0.9" />
<line x1="56.8" y1="289.99" x2="59.4" y2="289.99" stroke="#000" stroke-width="0.9" />
<line x1="56.8" y1="289.25" x2="59.4" y2="289.25" stroke="#000" stroke-width="0.9" />
<line x1="54.9" y1="317.2" x2="59.4" y2="317.2" stroke="#000" stroke-width="0.9" />
<line x1="56.8" y1="312.9" x2="59.4" y2="312.9" stroke="#000" stroke-width="0.9" />
<line x1="56.8" y1="310.38" x2="59.4" y2="310.38" stroke="#000" stroke-width="0.9" />
<line x1="56.8" y1="308.59" x2="59.4" y2="308.59" stroke="#000" stroke-width="0.9" />
<line x1="56.8" y1="307.2" x2="59.4" y2="307.2" stroke="#000" stroke-width="0.9" />
<line x1="56.8" y1="306.07" x2="59.4" y2="306.07" stroke="#000" stroke-width="0.9" />
<line x1="56.8" y1="305.12" x2="59.4" y2="305.12" stroke="#000" stroke-width="0.9" />
<line x1="56.8" y1="304.29" x2="59.4" y2="304.29" stroke="#000" stroke-width="0.9" />
<line x1="56.8" y1="303.55" x2="59.4" y2="303.55" stroke="#000" stroke-width="0.9" />
<line x1="54.9" y1="331.5" x2="59.4" y2="331.5" stroke="#000" stroke-width="0.9" />
<line x1="56.8" y1="327.2" x2="59.4" y2="327.2" stroke="#000" stroke-width="0.9" />
<line x1="56.8" y1="324.68" x2="59.4" y2="324.68" stroke="#000" stroke-width="0.9" />
<line x1="56.8" y1="322.89" x2="59.4" y2="322.89" stroke="#000" stroke-width="0.9" />
<line x1="56.8" y1="321.5" x2="59.4" y2="321.5" stroke="#000" stroke-width="0.9" />
<line x1="56.8" y1="320.37" x2="59.4" y2="320.37" stroke="#000" stroke-width="0.9" />
<line x1="56.8" y1="319.42" x2="59.4" y2="319.42" stroke="#000" stroke-width="0.9" />
<line x1="56.8" y1="318.59" x2="59.4" y2="318.59" stroke="#000" stroke-width="0.9" />
<line x1="56.8" y1="317.85" x2="59.4" y2="317.85" stroke="#000" stroke-width="0.9" />
<line x1="54.9" y1="345.8" x2="59.4" y2="345.8" stroke="#000" stroke-width="0.9" />
<line x1="56.8" y1="341.5" x2="59.4" y2="341.5" stroke="#000" stroke-width="0.9" />
<line x1="56.8" y1="338.98" x2="59.4" y2="338.98" stroke="#000" stroke-width="0.9" />
<line x1="56.8" y1="337.19" x2="59.4" y2="337.19" stroke="#000" stroke-width="0.9" />
<line x1="56.8" y1="335.8" x2="59.4" y2="335.8" stroke="#000" stroke-width="0.9" />
<line x1="56.8" y1="334.67" x2="59.4" y2="334.67" stroke="#000" stroke-width="0.9" />
<line x1="56.8" y1="333.72" x2="59.4" y2="333.72" stroke="#000" stroke-width="0.9" />
<line x1="56.8" y1="332.89" x2="59.4" y2="332.89" stroke="#000" stroke-width="0.9" />
<line x1="56.8" y1="332.15" x2="59.4" y2="332.15" stroke="#000" stroke-width="0.9" />
<line x1="54.9" y1="356.4" x2="59.4" y2="356.4" stroke="#000" stroke-width="0.9" />
<line x1="56.8" y1="352.55" x2="59.4" y2="352.55" stroke="#000" stroke-width="0.9" />
<line x1="56.8" y1="350.29" x2="59.4" y2="350.29" stroke="#000" stroke-width="0.9" />
<line x1="54.9" y1="369.2" x2="59.4" y2="369.2" stroke="#000" stroke-width="0.9" />
<line x1="56.8" y1="365.35" x2="59.4" y2="365.35" stroke="#000" stroke-width="0.9" />
<line x1="56.8" y1="363.09" x2="59.4" y2="363.09" stroke="#000" stroke-width="0.9" />
<line x1="56.8" y1="361.49" x2="59.4" y2="361.49" stroke="#000" stroke-width="0.9" />
<line x1="56.8" y1="360.25" x2="59.4" y2="360.25" stroke="#000" stroke-width="0.9" />
<line x1="56.8" y1="359.24" x2="59.4" y2="359.24" stroke="#000" stroke-width="0.9" />
<line x1="56.8" y1="358.38" x2="59.4" y2="358.38" stroke="#000" stroke-width="0.9" />
<line x1="56.8" y1="357.64" x2="59.4" y2="357.64" stroke="#000" stroke-width="0.9" />
<line x1="56.8" y1="356.99" x2="59.4" y2="356.99" stroke="#000" stroke-width="0.9" />
<line x1="54.9" y1="382" x2="59.4" y2="382" stroke="#000" stroke-width="0.9" />
<line x1="56.8" y1="378.15" x2="59.4" y2="378.15" stroke="#000" stroke-width="0.9" />
<line x1="56.8" y1="375.89" x2="59.4" y2="375.89" stroke="#000" stroke-width="0.9" />
<line x1="56.8" y1="374.29" x2="59.4" y2="374.29" stroke="#000" stroke-width="0.9" />
<line x1="56.8" y1="373.05" x2="59.4" y2="373.05" stroke="#000" stroke-width="0.9" />
<line x1="56.8" y1="372.04" x2="59.4" y2="372.04" stroke="#000" stroke-width="0.9" />
<line x1="56.8" y1="371.18" x2="59.4" y2="371.18" stroke="#000" stroke-width="0.9" />
<line x1="56.8" y1="370.44" x2="59.4" y2="370.44" stroke="#000" stroke-width="0.9" />
<line x1="56.8" y1="369.79" x2="59.4" y2="369.79" stroke="#000" stroke-width="0.9" />
<line x1="54.9" y1="394.8" x2="59.4" y2="394.8" stroke="#000" stroke-width="0.9" />
<line x1="56.8" y1="390.95" x2="59.4" y2="390.95" stroke="#000" stroke-width="0.9" />
<line x1="56.8" y1="388.69" x2="59.4" y2="388.69" stroke="#000" stroke-width="0.9" />
<line x1="56.8" y1="387.09" x2="59.4" y2="387.09" stroke="#000" stroke-width="0.9" />
<line x1="56.8" y1="385.85" x2="59.4" y2="385.85" stroke="#000" stroke-width="0.9" />
<line x1="56.8" y1="384.84" x2="59.4" y2="384.84" stroke="#000" stroke-width="0.9" />
<line x1="56.8" y1="383.98" x2="59.4" y2="383.98" stroke="#000" stroke-width="0.9" />
<line x1="56.8" y1="383.24" x2="59.4" y2="383.24" stroke="#000" stroke-width="0.9" />
<line x1="56.8" y1="382.59" x2="59.4" y2="382.59" stroke="#000" stroke-width="0.9" />
<line x1="54.9" y1="407.6" x2="59.4" y2="407.6" stroke="#000" stroke-width="0.9" />
<line x1="56.8" y1="403.75" x2="59.4" y2="403.75" stroke="#000" stroke-width="0.9" />
<line x1="56.8" y1="401.49" x2="59.4" y2="401.49" stroke="#000" stroke-width="0.9" />
<line x1="56.8" y1="399.89" x2="59.4" y2="399.89" stroke="#000" stroke-width="0.9" />
<line x1="56.8" y1="398.65" x2="59.4" y2="398.65" stroke="#000" stroke-width="0.9" />
<line x1="56.8" y1="397.64" x2="59.4" y2="397.64" stroke="#000" stroke-width="0.9" />
<line x1="56.8" y1="396.78" x2="59.4" y2="396.78" stroke="#000" stroke-width="0.9" />
<line x1="56.8" y1="396.04" x2="59.4" y2="396.04" stroke="#000" stroke-width="0.9" />
<line x1="56.8" y1="395.39" x2="59.4" y2="395.39" stroke="#000" stroke-width="0.9" />
<line x1="54.9" y1="420.4" x2="59.4" y2="420.4" stroke="#000" stroke-width="0.9" />
<line x1="56.8" y1="416.55" x2="59.4" y2="416.55" stroke="#000" stroke-width="0.9" />
<line x1="56.8" y1="414.29" x2="59.4" y2="414.29" stroke="#000" stroke-width="0.9" />
<line x1="56.8" y1="412.69" x2="59.4" y2="412.69" stroke="#000" stroke-width="0.9" />
<line x1="56.8" y1="411.45" x2="59.4" y2="411.45" stroke="#000" stroke-width="0.9" />
<line x1="56.8" y1="410.44" x2="59.4" y2="410.44" stroke="#000" stroke-width="0.9" />
<line x1="56.8" y1="409.58" x2="59.4" y2="409.58" stroke="#000" stroke-width="0.9" />
<line x1="56.8" y1="408.84" x2="59.4" y2="408.84" stroke="#000" stroke-width="0.9" />
<line x1="56.8" y1="408.19" x2="59.4" y2="408.19" stroke="#000" stroke-width="0.9" />
<line x1="54.9" y1="429.7" x2="59.4" y2="429.7" stroke="#000" stroke-width="0.9" />
<line x1="56.8" y1="426.12" x2="59.4" y2="426.12" stroke="#000" stroke-width="0.9" />
<line x1="56.8" y1="424.02" x2="59.4" y2="424.02" stroke="#000" stroke-width="0.9" />
<line x1="56.8" y1="422.54" x2="59.4" y2="422.54" stroke="#000" stroke-width="0.9" />
<line x1="56.8" y1="421.38" x2="59.4" y2="421.38" stroke="#000" stroke-width="0.9" />
<line x1="54.9" y1="441.6" x2="59.4" y2="441.6" stroke="#000" stroke-width="0.9" />
<line x1="56.8" y1="438.02" x2="59.4" y2="438.02" stroke="#000" stroke-width="0.9" />
<line x1="56.8" y1="435.92" x2="59.4" y2="435.92" stroke="#000" stroke-width="0.9" />
<line x1="56.8" y1="434.44" x2="59.4" y2="434.44" stroke="#000" stroke-width="0.9" />
<line x1="56.8" y1="433.28" x2="59.4" y2="433.28" stroke="#000" stroke-width="0.9" />
<line x1="56.8" y1="432.34" x2="59.4" y2="432.34" stroke="#000" stroke-width="0.9" />
<line x1="56.8" y1="431.54" x2="59.4" y2="431.54" stroke="#000" stroke-width="0.9" />
<line x1="56.8" y1="430.85" x2="59.4" y2="430.85" stroke="#000" stroke-width="0.9" />
<line x1="56.8" y1="430.24" x2="59.4" y2="430.24" stroke="#000" stroke-width="0.9" />
<line x1="54.9" y1="453.5" x2="59.4" y2="453.5" stroke="#000" stroke-width="0.9" />
<line x1="56.8" y1="449.92" x2="59.4" y2="449.92" stroke="#000" stroke-width="0.9" />
<line x1="56.8" y1="447.82" x2="59.4" y2="447.82" stroke="#000" stroke-width="0.9" />
<line x1="56.8" y1="446.34" x2="59.4" y2="446.34" stroke="#000" stroke-width="0.9" />
<line x1="56.8" y1="445.18" x2="59.4" y2="445.18" stroke="#000" stroke-width="0.9" />
<line x1="56.8" y1="444.24" x2="59.4" y2="444.24" stroke="#000" stroke-width="0.9" />
<line x1="56.8" y1="443.44" x2="59.4" y2="443.44" stroke="#000" stroke-width="0.9" />
<line x1="56.8" y1="442.75" x2="59.4" y2="442.75" stroke="#000" stroke-width="0.9" />
<line x1="56.8" y1="442.14" x2="59.4" y2="442.14" stroke="#000" stroke-width="0.9" />
<line x1="54.9" y1="465.4" x2="59.4" y2="465.4" stroke="#000" stroke-width="0.9" />
<line x1="56.8" y1="461.82" x2="59.4" y2="461.82" stroke="#000" stroke-width="0.9" />
<line x1="56.8" y1="459.72" x2="59.4" y2="459.72" stroke="#000" stroke-width="0.9" />
<line x1="56.8" y1="458.24" x2="59.4" y2="458.24" stroke="#000" stroke-width="0.9" />
<line x1="56.8" y1="457.08" x2="59.4" y2="457.08" stroke="#000" stroke-width="0.9" />
<line x1="56.8" y1="456.14" x2="59.4" y2="456.14" stroke="#000" stroke-width="0.9" />
<line x1="56.8" y1="455.34" x2="59.4" y2="455.34" stroke="#000" stroke-width="0.9" />
<line x1="56.8" y1="454.65" x2="59.4" y2="454.65" stroke="#000" stroke-width="0.9" />
<line x1="56.8" y1="454.04" x2="59.4" y2="454.04" stroke="#000" stroke-width="0.9" />
<line x1="54.9" y1="477.3" x2="59.4" y2="477.3" stroke="#000" stroke-width="0.9" />
<line x1="56.8" y1="473.72" x2="59.4" y2="473.72" stroke="#000" stroke-width="0.9" />
<line x1="56.8" y1="471.62" x2="59.4" y2="471.62" stroke="#000" stroke-width="0.9" />
<line x1="56.8" y1="470.14" x2="59.4" y2="470.14" stroke="#000" stroke-width="0.9" />
<line x1="56.8" y1="468.98" x2="59.4" y2="468.98" stroke="#000" stroke-width="0.9" />
<line x1="56.8" y1="468.04" x2="59.4" y2="468.04" stroke="#000" stroke-width="0.9" />
<line x1="56.8" y1="467.24" x2="59.4" y2="467.24" stroke="#000" stroke-width="0.9" />
<line x1="56.8" y1="466.55" x2="59.4" y2="466.55" stroke="#000" stroke-width="0.9" />
<line x1="56.8" y1="465.94" x2="59.4" y2="465.94" stroke="#000" stroke-width="0.9" />
<line x1="54.9" y1="489.2" x2="59.4" y2="489.2" stroke="#000" stroke-width="0.9" />
<line x1="56.8" y1="485.62" x2="59.4" y2="485.62" stroke="#000" stroke-width="0.9" />
<line x1="56.8" y1="483.52" x2="59.4" y2="483.52" stroke="#000" stroke-width="0.9" />
<line x1="56.8" y1="482.04" x2="59.4" y2="482.04" stroke="#000" stroke-width="0.9" />
<line x1="56.8" y1="480.88" x2="59.4" y2="480.88" stroke="#000" stroke-width="0.9" />
<line x1="56.8" y1="479.94" x2="59.4" y2="479.94" stroke="#000" stroke-width="0.9" />
<line x1="56.8" y1="479.14" x2="59.4" y2="479.14" stroke="#000" stroke-width="0.9" />
<line x1="56.8" y1="478.45" x2="59.4" y2="478.45" stroke="#000" stroke-width="0.9" />
<line x1="56.8" y1="477.84" x2="59.4" y2="477.84" stroke="#000" stroke-width="0.9" />
<text transform="translate(35.9,293.6) scale(1.08,1)" font-family="'Liberation Sans', Arial, sans-serif" font-size="10" font-weight="bold" text-anchor="start" dominant-baseline="alphabetic" fill="#000" >10<tspan font-size="7" dy="-3.1">5</tspan></text>
<text transform="translate(37.2,361.2) scale(1.08,1)" font-family="'Liberation Sans', Arial, sans-serif" font-size="10" font-weight="bold" text-anchor="start" dominant-baseline="alphabetic" fill="#000" >10<tspan font-size="7" dy="-3.1">5</tspan></text>
<text transform="translate(36.3,434.6) scale(1.08,1)" font-family="'Liberation Sans', Arial, sans-serif" font-size="10" font-weight="bold" text-anchor="start" dominant-baseline="alphabetic" fill="#000" >10<tspan font-size="7" dy="-3.1">6</tspan></text>
<line x1="70" y1="492.5" x2="70" y2="495.7" stroke="#000" stroke-width="1" />
<text transform="translate(70,500) scale(1.08,1)" font-family="'Liberation Sans', Arial, sans-serif" font-size="11" font-weight="bold" text-anchor="middle" dominant-baseline="central" fill="#000" >0</text>
<line x1="91.41" y1="492.5" x2="91.41" y2="494.7" stroke="#000" stroke-width="1" />
<line x1="112.82" y1="492.5" x2="112.82" y2="495.7" stroke="#000" stroke-width="1" />
<text transform="translate(112.82,500) scale(1.08,1)" font-family="'Liberation Sans', Arial, sans-serif" font-size="11" font-weight="bold" text-anchor="middle" dominant-baseline="central" fill="#000" >60</text>
<line x1="134.22" y1="492.5" x2="134.22" y2="494.7" stroke="#000" stroke-width="1" />
<line x1="155.63" y1="492.5" x2="155.63" y2="495.7" stroke="#000" stroke-width="1" />
<text transform="translate(155.63,500) scale(1.08,1)" font-family="'Liberation Sans', Arial, sans-serif" font-size="11" font-weight="bold" text-anchor="middle" dominant-baseline="central" fill="#000" >120</text>
<line x1="177.04" y1="492.5" x2="177.04" y2="494.7" stroke="#000" stroke-width="1" />
<line x1="198.45" y1="492.5" x2="198.45" y2="495.7" stroke="#000" stroke-width="1" />
<text transform="translate(198.45,500) scale(1.08,1)" font-family="'Liberation Sans', Arial, sans-serif" font-size="11" font-weight="bold" text-anchor="middle" dominant-baseline="central" fill="#000" >180</text>
<line x1="219.86" y1="492.5" x2="219.86" y2="494.7" stroke="#000" stroke-width="1" />
<line x1="241.26" y1="492.5" x2="241.26" y2="495.7" stroke="#000" stroke-width="1" />
<text transform="translate(241.26,500) scale(1.08,1)" font-family="'Liberation Sans', Arial, sans-serif" font-size="11" font-weight="bold" text-anchor="middle" dominant-baseline="central" fill="#000" >240</text>
<line x1="262.67" y1="492.5" x2="262.67" y2="494.7" stroke="#000" stroke-width="1" />
<line x1="284.08" y1="492.5" x2="284.08" y2="495.7" stroke="#000" stroke-width="1" />
<text transform="translate(284.08,500) scale(1.08,1)" font-family="'Liberation Sans', Arial, sans-serif" font-size="11" font-weight="bold" text-anchor="middle" dominant-baseline="central" fill="#000" >300</text>
<line x1="305.49" y1="492.5" x2="305.49" y2="494.7" stroke="#000" stroke-width="1" />
<line x1="326.9" y1="492.5" x2="326.9" y2="495.7" stroke="#000" stroke-width="1" />
<text transform="translate(326.9,500) scale(1.08,1)" font-family="'Liberation Sans', Arial, sans-serif" font-size="11" font-weight="bold" text-anchor="middle" dominant-baseline="central" fill="#000" >360</text>
<text transform="translate(176.1,536.9) scale(1.12,1)" font-family="'Liberation Serif', 'Times New Roman', serif" font-size="21.5" font-weight="normal" text-anchor="middle" dominant-baseline="alphabetic" fill="#000" stroke="#000" stroke-width="0.4">ϕ</text>
<text transform="translate(194.6,538.6) scale(1.15,1)" font-family="'Liberation Serif', 'Times New Roman', serif" font-size="25.6" font-weight="normal" text-anchor="middle" dominant-baseline="alphabetic" fill="#000" stroke="#000" stroke-width="0.4">(</text>
<text transform="translate(202,525.5)" font-family="'Liberation Serif', 'Times New Roman', serif" font-size="14.8" font-weight="normal" text-anchor="middle" dominant-baseline="alphabetic" fill="#000" stroke="#000" stroke-width="0.4">0</text>
<text transform="translate(209.8,538.6) scale(1.15,1)" font-family="'Liberation Serif', 'Times New Roman', serif" font-size="25.6" font-weight="normal" text-anchor="middle" dominant-baseline="alphabetic" fill="#000" stroke="#000" stroke-width="0.4">)</text>
<text transform="translate(77.1,296.9)" font-family="'Liberation Sans', Arial, sans-serif" font-size="13.2" font-weight="bold" text-anchor="start" dominant-baseline="alphabetic" fill="#000" >(015) In<tspan font-size="9" dy="2">2</tspan><tspan dy="-2">Se</tspan><tspan font-size="9" dy="2">3</tspan></text>
<text transform="translate(260.8,295.4)" font-family="'Liberation Sans', Arial, sans-serif" font-size="13" font-weight="bold" text-anchor="start" dominant-baseline="alphabetic" fill="#000" >Sample 1</text>
<text transform="translate(120.8,366.7)" font-family="'Liberation Sans', Arial, sans-serif" font-size="13.2" font-weight="bold" text-anchor="start" dominant-baseline="alphabetic" fill="#000" >(015) In<tspan font-size="9" dy="2">2</tspan><tspan dy="-2">Se</tspan><tspan font-size="9" dy="2">3</tspan></text>
<text transform="translate(216.4,366.3)" font-family="'Liberation Sans', Arial, sans-serif" font-size="13" font-weight="bold" text-anchor="start" dominant-baseline="alphabetic" fill="#000" >Sample 2</text>
<text transform="translate(113.3,434.6)" font-family="'Liberation Sans', Arial, sans-serif" font-size="13.2" font-weight="bold" text-anchor="start" dominant-baseline="alphabetic" fill="#000" >(002) InP(111)B</text>
</svg>
</body></html>
